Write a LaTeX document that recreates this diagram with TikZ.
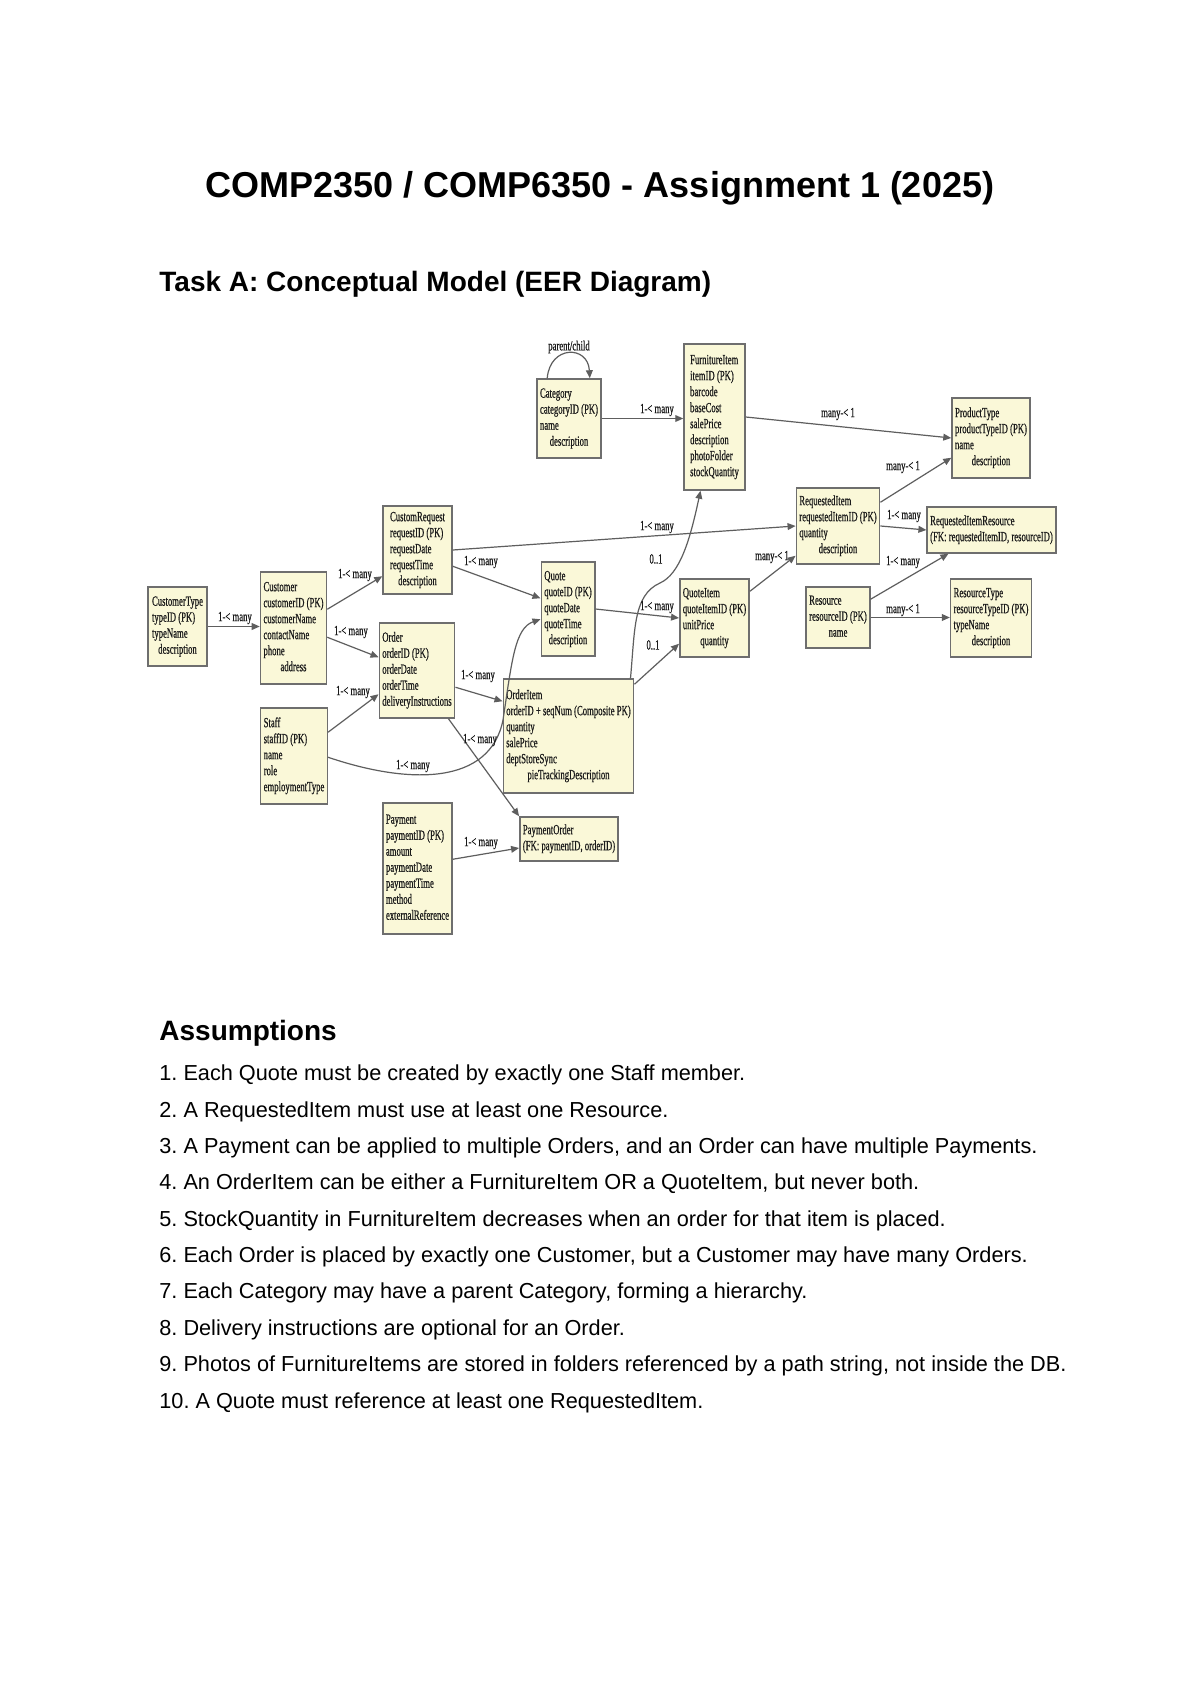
\documentclass[tikz,border=0pt]{standalone}
\usepackage{fontspec}
\setmainfont{Liberation Sans}
\newfontfamily\erfont[FakeStretch=0.62,FakeBold=0.6]{Liberation Serif}
\usetikzlibrary{calc,arrows.meta}
\definecolor{EFill}{HTML}{FAF8D8}
\definecolor{EDraw}{HTML}{6E6E6E}
\definecolor{ELine}{HTML}{5E5E5E}
\definecolor{EInk}{HTML}{1A1A1A}
\newcommand{\lastln}[1]{\multicolumn{1}{@{}c@{}}{#1}}
\newcommand{\attrs}[1]{\begin{tabular}{@{}l@{}}#1\end{tabular}}
\frenchspacing

\begin{document}
\begin{tikzpicture}[x=0.5pt,y=-0.5pt,
  entity/.style={draw=EDraw, fill=EFill, line width=0.75pt, inner sep=1.5pt,
    font=\erfont\fontsize{7}{8}\selectfont, text=EInk},
  rel/.style={draw=ELine, line width=0.6pt, -{Triangle[length=4pt,width=3.4pt]}},
  lbl/.style={font=\erfont\fontsize{7}{8}\selectfont, text=EInk, inner sep=0pt},
  item/.style={anchor=base west, inner sep=0pt, font=\fontsize{10.85}{13}\selectfont}]
  \fill[white] (0,0) rectangle (1200,1696);
  \useasboundingbox (0,0) rectangle (1200,1696);

  % headings
  \node[anchor=base, inner sep=0pt, font=\fontsize{18}{22}\selectfont\bfseries] (title) at (600,198)
    {COMP2350 / COMP6350 - Assignment 1 (2025)};
  \node[anchor=base west, inner sep=0pt, font=\fontsize{14}{17}\selectfont\bfseries] (taska) at (159,292)
    {Task A: Conceptual Model (EER Diagram)};

  % entities
  \node[entity, minimum width=28pt, minimum height=39.5pt] (cat) at (569,418.5)
    {\attrs{Category\\categoryID (PK)\\name\\\lastln{description}}};
  \node[entity, minimum width=30.5pt, minimum height=73pt] (furn) at (714.5,417)
    {\attrs{FurnitureItem\\itemID (PK)\\barcode\\baseCost\\salePrice\\description\\photoFolder\\\lastln{stockQuantity}}};
  \node[entity, minimum width=36pt, minimum height=40pt] (ptype) at (991,438)
    {\attrs{ProductType\\productTypeID (PK)\\name\\\lastln{description}}};
  \node[entity, minimum width=39pt, minimum height=38pt] (ritem) at (838,526)
    {\attrs{RequestedItem\\requestedItemID (PK)\\quantity\\\lastln{description}}};
  \node[entity, minimum width=60.5pt, minimum height=23pt] (rres) at (991.5,530)
    {\attrs{RequestedItemResource\\(FK: requestedItemID, resourceID)}};
  \node[entity, minimum width=29pt, minimum height=30.5pt] (res) at (838,617.5)
    {\attrs{Resource\\resourceID (PK)\\\lastln{name}}};
  \node[entity, minimum width=37pt, minimum height=39pt] (rtype) at (991,618)
    {\attrs{ResourceType\\resourceTypeID (PK)\\typeName\\\lastln{description}}};
  \node[entity, minimum width=34.5pt, minimum height=44pt] (creq) at (417.5,550)
    {\attrs{CustomRequest\\requestID (PK)\\requestDate\\requestTime\\\lastln{description}}};
  \node[entity, minimum width=25pt, minimum height=47pt] (quote) at (568,609)
    {\attrs{Quote\\quoteID (PK)\\quoteDate\\quoteTime\\\lastln{description}}};
  \node[entity, minimum width=31.5pt, minimum height=39pt] (qitem) at (714.5,618)
    {\attrs{QuoteItem\\quoteItemID (PK)\\unitPrice\\\lastln{quantity}}};
  \node[entity, minimum width=29.5pt, minimum height=39.5pt] (ctype) at (177.5,626.5)
    {\attrs{CustomerType\\typeID (PK)\\typeName\\\lastln{description}}};
  \node[entity, minimum width=29.5pt, minimum height=56pt] (cust) at (293.5,628)
    {\attrs{Customer\\customerID (PK)\\customerName\\contactName\\phone\\\lastln{address}}};
  \node[entity, minimum width=37pt, minimum height=47.5pt] (order) at (417,670.5)
    {\attrs{Order\\orderID (PK)\\orderDate\\orderTime\\\lastln{deliveryInstructions}}};
  \node[entity, minimum width=32pt, minimum height=48pt] (staff) at (294,756)
    {\attrs{Staff\\staffID (PK)\\name\\role\\\lastln{employmentType}}};
  \node[entity, minimum width=60.5pt, minimum height=57pt] (oitem) at (568.5,736)
    {\attrs{OrderItem\\orderID + seqNum (Composite PK)\\quantity\\salePrice\\deptStoreSync\\\lastln{pieTrackingDescription}}};
  \node[entity, minimum width=44pt, minimum height=22pt] (payord) at (569,839)
    {\attrs{PaymentOrder\\(FK: paymentID, orderID)}};
  \node[entity, minimum width=34.5pt, minimum height=65.5pt] (pay) at (417.5,868.5)
    {\attrs{Payment\\paymentID (PK)\\amount\\paymentDate\\paymentTime\\method\\\lastln{externalReference}}};

  % relationships
  \draw[rel] (ctype.east) -- (ctype.east -| cust.west);
  \draw[rel] ($(cust.north east)+(0,38)$) -- ($(creq.north west)+(0,71)$);
  \draw[rel] ($(cust.north east)+(0,66)$) -- ($(order.north west)+(0,35)$);
  \draw[rel] ($(staff.north east)+(0,25)$) -- ($(order.north west)+(0,72)$);
  \draw[rel] ($(staff.north east)+(0,50)$) .. controls (410,785) and (490,785) .. (503,720)
    .. controls (512,660) and (515,628) .. ($(quote.north west)+(0,58)$);
  \draw[rel] ($(order.north east)+(0,65)$) -- ($(oitem.north west)+(0,23)$);
  \draw[rel] ($(order.south east)+(-7,0)$) -- (payord.north west);
  \draw[rel] ($(pay.north east)+(0,57)$) -- ($(payord.west)+(0,9)$);
  \draw[rel] ($(creq.north east)+(0,61)$) -- ($(quote.north west)+(0,37)$);
  \draw[rel] (creq.east) -- (ritem.west);
  \draw[rel] (quote.east) -- (qitem.west);
  \draw[rel] ($(oitem.north east)+(-4,0)$) .. controls (635,630) and (633,595) .. (660,583)
    .. controls (680,574) and (690,540) .. ($(furn.south)+(-14,0)$);
  \draw[rel] ($(oitem.north east)+(0,6)$) -- ($(qitem.south west)+(0,-14)$);
  \draw[rel] ($(qitem.north east)+(0,13)$) -- ($(ritem.south west)+(0,-9)$);
  \draw[rel] (furn.east) -- (ptype.west);
  \draw[rel] (cat.east) -- (cat.east -| furn.west);
  \draw[rel] ($(cat.north west)+(11,0)$) .. controls (550,345) and (588,345) .. ($(cat.north east)+(-12,0)$);
  \draw[rel] ($(ritem.north east)+(0,15)$) -- ($(ptype.south west)+(0,-21)$);
  \draw[rel] (ritem.east) -- (rres.west);
  \draw[rel] ($(res.north east)+(0,13)$) -- ($(rres.south west)+(22,0)$);
  \draw[rel] (res.east) -- (res.east -| rtype.west);

  % cardinality labels
  \node[lbl] (l1)  at (235,618) {1-< many};
  \node[lbl] (l2)  at (355,575) {1-< many};
  \node[lbl] (l3)  at (351,632) {1-< many};
  \node[lbl] (l4)  at (353,692) {1-< many};
  \node[lbl] (l5)  at (413,766) {1-< many};
  \node[lbl] (l6)  at (478,676) {1-< many};
  \node[lbl] (l7)  at (480,740) {1-< many};
  \node[lbl] (l8)  at (481,843) {1-< many};
  \node[lbl] (l9)  at (481,562) {1-< many};
  \node[lbl] (l10) at (657,527) {1-< many};
  \node[lbl] (l11) at (657,607) {1-< many};
  \node[lbl] (l12) at (656,559) {0..1};
  \node[lbl] (l13) at (653,645) {0..1};
  \node[lbl] (l14) at (772,557) {many-< 1};
  \node[lbl] (l15) at (838,414) {many-< 1};
  \node[lbl] (l16) at (657,410) {1-< many};
  \node[lbl] (l17) at (569,347) {parent/child};
  \node[lbl] (l18) at (903,467) {many-< 1};
  \node[lbl] (l19) at (904,516) {1-< many};
  \node[lbl] (l20) at (903,562) {1-< many};
  \node[lbl] (l21) at (903,610) {many-< 1};

  % assumptions
  \node[anchor=base west, inner sep=0pt, font=\fontsize{14}{17}\selectfont\bfseries] (assum) at (159,1040)
    {Assumptions};
  \node[item] (a1)  at (159,1080) {1. Each Quote must be created by exactly one Staff member.};
  \node[item] (a2)  at (159,1117) {2. A RequestedItem must use at least one Resource.};
  \node[item] (a3)  at (159,1153) {3. A Payment can be applied to multiple Orders, and an Order can have multiple Payments.};
  \node[item] (a4)  at (159,1189) {4. An OrderItem can be either a FurnitureItem OR a QuoteItem, but never both.};
  \node[item] (a5)  at (159,1226) {5. StockQuantity in FurnitureItem decreases when an order for that item is placed.};
  \node[item] (a6)  at (159,1262) {6. Each Order is placed by exactly one Customer, but a Customer may have many Orders.};
  \node[item] (a7)  at (159,1298) {7. Each Category may have a parent Category, forming a hierarchy.};
  \node[item] (a8)  at (159,1335) {8. Delivery instructions are optional for an Order.};
  \node[item] (a9)  at (159,1371) {9. Photos of FurnitureItems are stored in folders referenced by a path string, not inside the DB.};
  \node[item] (a10) at (159,1408) {10. A Quote must reference at least one RequestedItem.};
\end{tikzpicture}
\end{document}
